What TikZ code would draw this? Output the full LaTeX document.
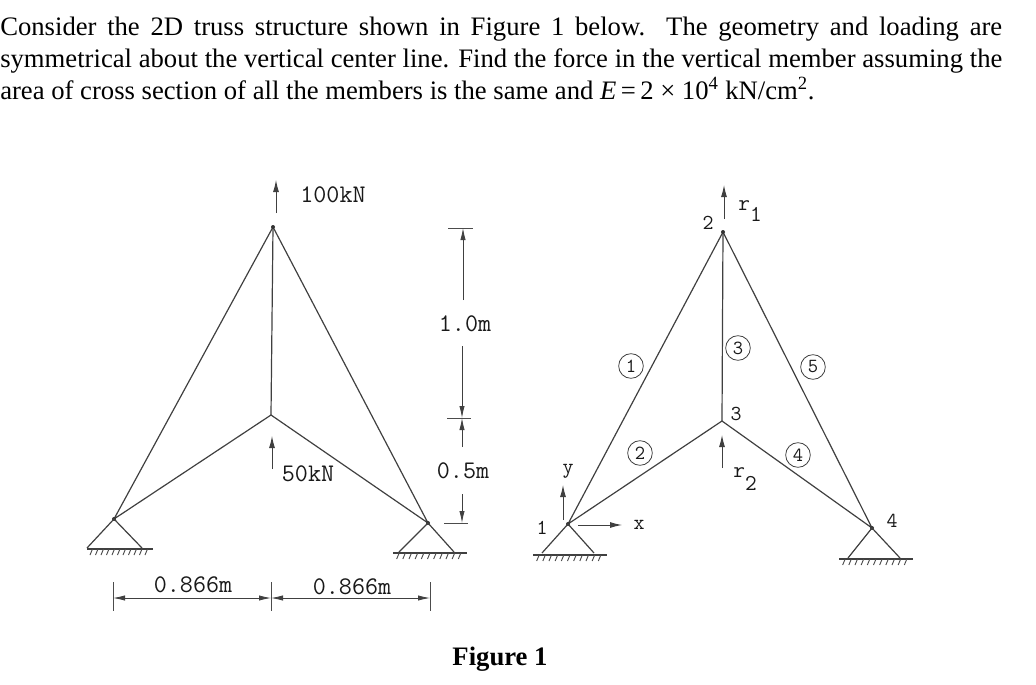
\documentclass[tikz,border=0pt]{standalone}
\usepackage{fontspec}
\setmainfont{Liberation Serif}
\usetikzlibrary{arrows.meta}
\tikzset{
	member/.style={black!75!white,line width=0.9pt},
	thin line/.style={black!70!white,line width=0.7pt},
	load/.style={black!75!white,line width=0.7pt,-{Latex[length=9pt,width=4.5pt]}},
	dim/.style={black!75!white,line width=0.6pt,-{Latex[length=9pt,width=4pt]}},
	label/.style={inner sep=0pt,text=black!90!white,font=\fontsize{19}{22}\ttfamily},
	mem/.style={circle,draw=black!75!white,line width=0.6pt,minimum size=18.5pt,inner sep=0pt,text=black!90!white,font=\fontsize{15}{17}\ttfamily}
}
\begin{document}
\begin{tikzpicture}[x=0.75pt,y=-0.75pt]
		\useasboundingbox (0,0) rectangle (1036,685);
		\node[anchor=north west,inner sep=0pt,text width=751.5pt,align=justify,font=\fontsize{20}{24}\selectfont] (question) at (0,17) {Consider the 2D truss structure shown in Figure 1 below. The geometry and loading are\linebreak symmetrical about the vertical center line. Find the force in the vertical member assuming the\linebreak area of cross section of all the members is the same and \textit{E}\,=\,2 × 10\textsuperscript{4} kN/cm\textsuperscript{2}.};
		\foreach \n/\x/\y in {a/114/519,b/273/227,c/271/415,d/428/523,e/568/524,f/723/232,g/722/421,h/872/528} {
			\coordinate (\n) at (\x,\y);
		}
		\draw[member] (a) -- (b) -- (d) -- (c) -- (a);
		\draw[member] (b) -- (c);
		\draw[member] (e) -- (f) -- (h) -- (g) -- (e);
		\draw[member] (f) -- (g);
		\foreach \n in {a,b,d,e,f,h} {
			\fill[black!80!white] (\n) circle (2);
		}
		\foreach \n/\x/\y/\r in {a/87/548/142,d/399/552/454,e/542/553/594,h/848/558/900} {
			\coordinate (\n l) at (\x,\y);
			\coordinate (\n r) at (\r,\y);
			\draw[member] (\n l) -- (\n) -- (\n r);
		}
		\foreach \x/\y/\l in {87/549/66,393/553/74,533/555/74,839/559/74} {
			\draw[member] (\x,\y) -- ++(\l,0);
			\foreach \i in {1,...,11} {
				\draw[thin line] ({\x+\i*\l/12},\y) -- ++(-2.5,6);
			}
		}
		\foreach \n/\x/\y/\t in {p/276/213/180,q/272/469/436,r/724/219/185,s/722/468/435,u/563/520/485} {
			\coordinate (\n a) at (\x,\y);
			\coordinate (\n b) at (\x,\t);
			\draw[load] (\n a) -- (\n b);
		}
		\coordinate (xa) at (578,525);
		\coordinate (xb) at (622,525);
		\draw[load] (xa) -- (xb);
		\foreach \n/\x/\y/\l/\m in {t1/448/228/473/463,t2/447/418/471/462,t3/444/523/468/462} {
			\coordinate (\n l) at (\x,\y);
			\coordinate (\n r) at (\l,\y);
			\coordinate (\n m) at (\m,\y);
			\draw[thin line] (\n l) -- (\n r);
		}
		\coordinate (va) at (463,300);
		\coordinate (vb) at (462,346);
		\coordinate (vc) at (462,447);
		\coordinate (vd) at (462,494);
		\draw[dim] (va) -- (t1m);
		\draw[dim] (vb) -- (t2m);
		\draw[dim] (vc) -- (t2m);
		\draw[dim] (vd) -- (t3m);
		\foreach \n/\x in {h1/113,h2/271,h3/430} {
			\coordinate (\n t) at (\x,582);
			\coordinate (\n b) at (\x,611);
			\coordinate (\n m) at (\x,598);
			\draw[thin line] (\n t) -- (\n b);
		}
		\draw[dim,{Latex[length=9pt,width=4pt]}-{Latex[length=9pt,width=4pt]}] (h1m) -- (h2m);
		\draw[dim,{Latex[length=9pt,width=4pt]}-{Latex[length=9pt,width=4pt]}] (h2m) -- (h3m);
		\node[label] (load1) at (333,195) {100kN};
		\node[label] (load2) at (308,474) {50kN};
		\node[label] (len1) at (465,324) {1.0m};
		\node[label] (len2) at (463,471) {0.5m};
		\node[label] (wid1) at (193,585) {0.866m};
		\node[label] (wid2) at (352,587) {0.866m};
		\node[label,font=\fontsize{17}{20}\ttfamily] (r1) at (750,211) {r\raisebox{-0.45em}{1}};
		\node[label,font=\fontsize{17}{20}\ttfamily] (r2) at (745,479) {r\raisebox{-0.55em}{2}};
		\foreach \n/\x/\y/\t in {n1/542/528/1,n2/708/223/2,n3/736/414/3,n4/892/521/4,ax/568/471/y,ay/639/525/x} {
			\node[label,font=\fontsize{16}{18}\ttfamily] (\n) at (\x,\y) {\t};
		}
		\foreach \n/\x/\y/\t in {m1/631/366/1,m2/640/453/2,m3/738/348/3,m4/798/455/4,m5/813/367/5} {
			\node[mem] (\n) at (\x,\y) {\t};
		}
		\node[inner sep=0pt,font=\fontsize{20}{24}\bfseries\selectfont] (caption) at (500,659) {Figure 1};
		\end{tikzpicture}
\end{document}
